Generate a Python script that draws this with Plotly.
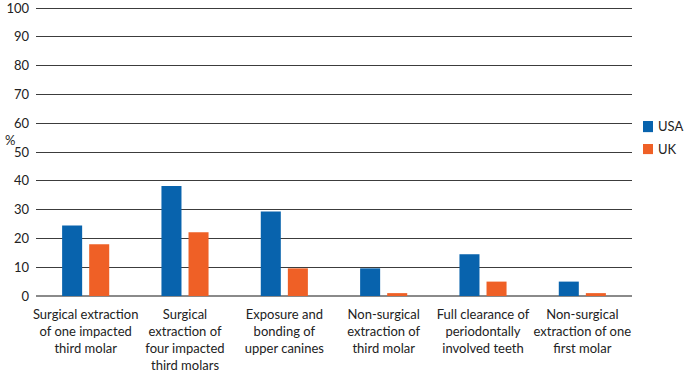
import plotly.graph_objects as go

categories = [
    "Surgical extraction<br>of one impacted<br>third molar",
    "Surgical<br>extraction of<br>four impacted<br>third molars",
    "Exposure and<br>bonding of<br>upper canines",
    "Non-surgical<br>extraction of<br>third molar",
    "Full clearance of<br>periodontally<br>involved teeth",
    "Non-surgical<br>extraction of one<br>first molar",
]
usa = [24.5, 38.2, 29.3, 9.6, 14.5, 5.0]
uk = [18.0, 22.1, 9.6, 1.0, 5.0, 1.0]
y_ticks = [0, 10, 20, 30, 40, 50, 60, 70, 80, 90, 100]

FONT = "Lato"
COLORS = {"USA": "#0863ad", "UK": "#ef6026"}

fig = go.Figure()
fig.add_bar(x=categories, y=usa, name="USA", marker_color=COLORS["USA"], marker_line_width=0)
fig.add_bar(x=categories, y=uk, name="UK", marker_color=COLORS["UK"], marker_line_width=0)

# custom legend (squares + labels) placed to the right of the plot
shapes = []
annotations = [dict(text="%", xref="paper", yref="paper", x=-0.055, y=0.54,
                    xanchor="left", yanchor="middle", showarrow=False,
                    font=dict(size=13, color="#222"))]
legend_rows = [("USA", 0.567, 0.6055, 0.588), ("UK", 0.491, 0.526, 0.509)]
for name, y0, y1, yt in legend_rows:
    shapes.append(dict(type="rect", xref="paper", yref="paper", x0=1.0185, x1=1.0352,
                       y0=y0, y1=y1, fillcolor=COLORS[name], line=dict(width=0)))
    annotations.append(dict(text=name, xref="paper", yref="paper", x=1.040, y=yt,
                            xanchor="left", yanchor="middle", showarrow=False,
                            font=dict(size=13, color="#222")))

fig.update_layout(
    width=685, height=374,
    margin=dict(l=36, r=53, t=7, b=78, autoexpand=False),
    paper_bgcolor="white", plot_bgcolor="white",
    barmode="group", bargap=0.455, bargroupgap=0.26,
    font=dict(family=FONT, size=13, color="#222"),
    showlegend=False,
    shapes=shapes,
    annotations=annotations,
)
fig.update_xaxes(showgrid=False, showline=False, ticks="", tickfont=dict(size=13),
                 tickangle=0, automargin=False, ticklabelstandoff=9)
fig.update_yaxes(range=[0, 100.35], tickvals=y_ticks, showgrid=True, gridcolor="#3c3c3c",
                 gridwidth=1, zeroline=True, zerolinecolor="#8a8a8a", zerolinewidth=2,
                 showline=False, ticks="", ticklabelstandoff=6, tickfont=dict(size=13),
                 automargin=False, ticklabeloverflow="allow")

fig.write_html("out.html", config={"displayModeBar": False},
               post_script="document.body.style.margin='0';")
